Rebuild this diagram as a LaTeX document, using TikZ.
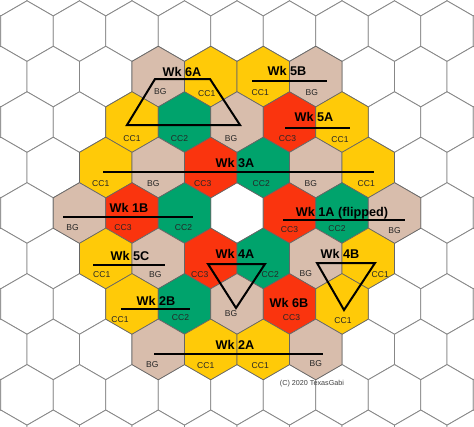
\documentclass[tikz,border=0pt]{standalone}
\usepackage{fontspec}
\setmainfont{Liberation Sans}
\definecolor{bgtan}{RGB}{216,189,172}
\definecolor{ccone}{RGB}{255,202,8}
\definecolor{cctwo}{RGB}{0,163,108}
\definecolor{ccthree}{RGB}{250,52,14}
\definecolor{gridgray}{RGB}{135,135,135}
% one pointy-top hex cell around (#1,#2), pixel units
\newcommand{\hexcell}[2]{(#1,#2) ++(0,-30.31) -- ++(26.25,15.155) -- ++(0,30.31) -- ++(-26.25,15.155) -- ++(-26.25,-15.155) -- ++(0,-30.31) -- cycle}
\tikzset{
  gridhex/.style={draw=gridgray, line width=0.6pt, fill=white},
  colhex/.style={draw=gray!80!black, line width=0.5pt},
  cclabel/.style={font=\fontsize{6.4}{7}\selectfont, text=black!85, inner sep=0pt},
  wklabel/.style={font=\bfseries\fontsize{9.5}{10}\selectfont, inner sep=0pt},
  wkline/.style={line width=1.5pt, black},
}
\begin{document}
\begin{tikzpicture}[x=0.75pt, y=-0.75pt]
    \useasboundingbox (0,0) rectangle (474,426);
    \clip (0,0) rectangle (474,426);
    \fill[white] (0,0) rectangle (474,426);

    % white hex grid
    \foreach \r in {-5,...,5}
      \foreach \q in {-9,...,9}
        \draw[gridhex] \hexcell{237+52.5*\q+26.25*\r}{213+45.47*\r};

    % coloured ring: q / r / colour / label / label offset
    \foreach \q/\r/\c/\t/\dx/\dy in {
        0/-3/bgtan/BG/2/15, 1/-3/ccone/CC1/-4/17, 2/-3/ccone/CC1/-3/16, 3/-3/bgtan/BG/-4/16,
        -1/-2/ccone/CC1/0/16, 0/-2/cctwo/CC2/-5/16, 1/-2/bgtan/BG/-6/16, 2/-2/ccthree/CC3/-2/16, 3/-2/ccone/CC1/-2/17,
        -2/-1/ccone/CC1/-5/16, -1/-1/bgtan/BG/-5/16, 0/-1/ccthree/CC3/-8/16, 1/-1/cctwo/CC2/-2/16, 2/-1/bgtan/BG/-5/16, 3/-1/ccone/CC1/-2/16,
        -3/0/bgtan/BG/-7/15, -2/0/ccthree/CC3/-9/15, -1/0/cctwo/CC2/-1/15, 1/0/ccthree/CC3/0/17, 2/0/cctwo/CC2/-5/16, 3/0/bgtan/BG/0/18,
        -3/1/ccone/CC1/-4/16, -2/1/bgtan/BG/-3/16, -1/1/ccthree/CC3/-11/16, 0/1/cctwo/CC2/7/16, 1/1/bgtan/BG/-10/15, 2/1/ccone/CC1/12/16,
        -3/2/ccone/CC1/-12/16, -2/2/cctwo/CC2/-4/14, -1/2/bgtan/BG/-6/10, 0/2/ccthree/CC3/2/14, 1/2/ccone/CC1/1/17,
        -3/3/bgtan/BG/-6/15, -2/3/ccone/CC1/-5/16, -1/3/ccone/CC1/-3/16, 0/3/bgtan/BG/0/14}
    {
      \draw[colhex, fill=\c] \hexcell{237+52.5*\q+26.25*\r}{213+45.47*\r};
      \node[cclabel] (lab\q\r) at (237+52.5*\q+26.25*\r+\dx, 213+45.47*\r+\dy) {\t};
    }

    % week labels
    \node[wklabel] (wk6a) at (182,72) {Wk 6A};
    \node[wklabel] (wk5b) at (287,71) {Wk 5B};
    \node[wklabel] (wk5a) at (314,117) {Wk 5A};
    \node[wklabel] (wk3a) at (235,163) {Wk 3A};
    \node[wklabel] (wk1b) at (129,208) {Wk 1B};
    \node[wklabel] (wk1a) at (342,213) {Wk 1A (flipped)};
    \node[wklabel] (wk5c) at (130,256) {Wk 5C};
    \node[wklabel] (wk4a) at (235,254) {Wk 4A};
    \node[wklabel] (wk4b) at (340,254) {Wk 4B};
    \node[wklabel] (wk2b) at (156,301) {Wk 2B};
    \node[wklabel] (wk6b) at (289,303) {Wk 6B};
    \node[wklabel] (wk2a) at (235,345) {Wk 2A};

    % underlines and shapes
    \draw[wkline] (155,79) -- (210,79) -- (240,125) -- (127,125) -- cycle;
    \draw[wkline] (252,81) -- (327,81);
    \draw[wkline] (285,128) -- (350,128);
    \draw[wkline] (103,172) -- (374,172);
    \draw[wkline] (63,217) -- (193,217);
    \draw[wkline] (283,220) -- (405,220);
    \draw[wkline] (93,265) -- (165,265);
    \draw[wkline, line join=miter] (208,264) -- (265,264) -- (236,308) -- cycle;
    \draw[wkline, line join=miter] (317,263) -- (375,263) -- (344,310) -- cycle;
    \draw[wkline] (121,309) -- (190,309);
    \draw[wkline] (154,354) -- (323,354);

    \node[font=\fontsize{5.4}{6}\selectfont, text=black!75] (copy) at (312,384) {(C) 2020 TexasGabi};
\end{tikzpicture}
\end{document}
